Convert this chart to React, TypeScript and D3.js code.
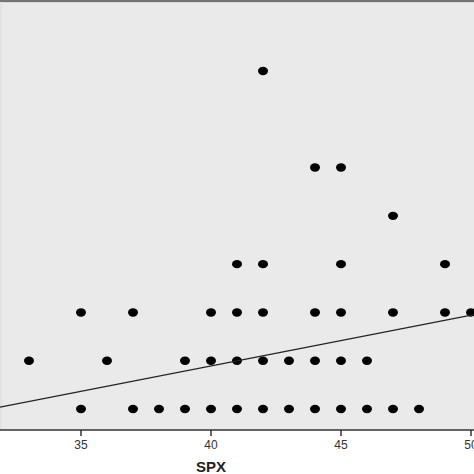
import React from 'react';
import * as d3 from 'd3';

// SPX value per dot, grouped by y value (rows of the scatter)
const yLevels = [1, 2, 3, 4, 5, 6, 8];
const spxByLevel: number[][] = [
  [35, 37, 38, 39, 40, 41, 42, 43, 44, 45, 46, 47, 48],
  [33, 36, 39, 40, 41, 42, 43, 44, 45, 46],
  [35, 37, 40, 41, 42, 44, 45, 47, 49, 50],
  [41, 42, 45, 49],
  [47],
  [44, 45],
  [42],
];
const xTicks = [35, 40, 45, 50];
// fit line: y = a + b * (x - 35)
const fitIntercept35 = 1.366;
const fitSlope = 0.105;

const W = 474;
const H = 474;

const App: React.FC = () => {
  const x = d3.scaleLinear().domain([35, 50]).range([81, 471]);
  const y = d3.scaleLinear().domain([1, 8]).range([409, 71]);
  const axisY = 430;

  const points = yLevels.flatMap((lv, i) => spxByLevel[i].map(v => ({ x: v, y: lv })));

  const [x0, x1] = [x.invert(0), x.invert(W)];
  const line = d3.line<number>()
    .x(d => x(d))
    .y(d => y(fitIntercept35 + fitSlope * (d - 35)));

  return (
    <svg width={W} height={H} style={{ position: 'absolute', left: 0, top: 0, background: '#fff' }}
      fontFamily="'Liberation Sans', Arial, sans-serif">
      {/* plot area */}
      <rect x={0} y={0} width={W} height={axisY} fill="#eaeaea" />
      <rect x={0} y={0} width={W} height={2} fill="#747474" />
      <rect x={0} y={2} width={W} height={1} fill="#d8d8d8" />
      <rect x={0} y={2} width={2} height={axisY - 2} fill="#e2e2e2" />

      {points.map((p, i) => (
        <ellipse key={i} cx={x(p.x)} cy={y(p.y)} rx={5} ry={4.2} fill="#000" />
      ))}

      <path d={line([x0, x1]) ?? ''} fill="none" stroke="#222" strokeWidth={1.2} />

      {/* x axis */}
      <line x1={0} x2={W} y1={axisY} y2={axisY} stroke="#333" strokeWidth={1.5} />
      {xTicks.map(t => (
        <g key={t} transform={`translate(${x(t)},${axisY})`}>
          <line y1={0} y2={6} stroke="#333" strokeWidth={1.5} />
          <text y={19} textAnchor="middle" fontSize={12} fill="#333">{t}</text>
        </g>
      ))}
      <text x={x(40)} y={472} textAnchor="middle" fontSize={15} fontWeight="bold" fill="#222">SPX</text>
    </svg>
  );
};

export default App;
